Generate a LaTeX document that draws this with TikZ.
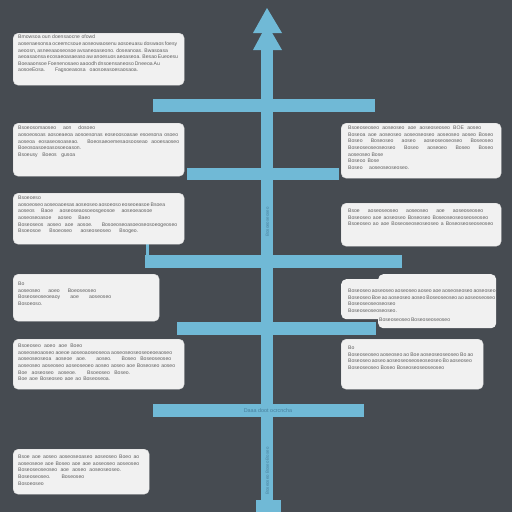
\documentclass[tikz,border=0pt]{standalone}
\usepackage{fontspec}
\setmainfont{Liberation Sans}
\definecolor{bg}{HTML}{464B51}
\definecolor{bar}{HTML}{70B9D6}
\definecolor{boxfill}{HTML}{F1F1F1}
\definecolor{boxline}{HTML}{DADADA}
\definecolor{txt}{HTML}{5E5E5E}
\definecolor{bartxt}{HTML}{477F9C}
\newcommand{\tl}[2]{\makebox[#1pt][s]{#2}}
\tikzset{
  card/.style={fill=boxfill, draw=boxline, line width=0.4pt, rounded corners=5pt, anchor=north west, inner sep=0pt},
  cardtext/.style={anchor=north west, inner sep=0pt, align=left, text=txt, font=\fontsize{5.1}{6.6}\selectfont},
  barfill/.style={fill=bar},
  spinetext/.style={text=bartxt, font=\fontsize{4.4}{5}\selectfont, rotate=90, inner sep=0pt},
  bartext/.style={text=bartxt, font=\fontsize{5.4}{6}\selectfont, inner sep=0pt}
}
\begin{document}
\begin{tikzpicture}[x=1pt,y=-1pt]
\fill[bg] (0,0) rectangle (512,512);
\useasboundingbox (0,0) rectangle (512,512);

% spine
\fill[barfill] (261,48) rectangle (273,502);
\fill[barfill] (256,500) rectangle (281,512);
\fill[barfill] (267,8) -- (282,33) -- (253,33) -- cycle;
\fill[barfill] (267,24) -- (282,50) -- (253,50) -- cycle;

% bars
\fill[barfill] (153,99) rectangle (375,112);
\fill[barfill] (187,168) rectangle (339,180);
\fill[barfill] (145,255) rectangle (402,268);
\fill[barfill] (145.5,243) rectangle (149,256);
\fill[barfill] (153,404) rectangle (364,417);

% left cards
\node[card, minimum width=171pt, minimum height=52pt] (l1) at (13,33) {};
\node[cardtext] (l1t) at (18,35) {%
\tl{77}{Bmowsoa oun doensaocne ofowd}\\
\tl{159}{aosenaesonsa oceemcsoue aoseowaosenu aosoeuasu doswaos foesy}\\
\tl{139}{aeoosn, asneeaaoseosoe avsaneoaseono. doseanoas. Bwasoasa}\\
\tl{159}{aeoasaonsa ecosaeoasaeaso aw anoesuos aeoaseoa. Besao Eueoesu}\\
\tl{139}{Boeaaonsoe Foenenosaeo aaoodh dnsoensaneoso Dneeoa Au}\\
\tl{120}{aosoeEosa. Fagsoeasosa oaosoeasoesaosaoa.}};

\node[card, minimum width=171pt, minimum height=53pt] (l2) at (13,123) {};
\node[cardtext] (l2t) at (18,126) {%
\tl{77}{Bsoeosomaoseo aon dosoeo}\\
\tl{160}{aosoeosoas aosoeaeoa aosoesonas eoseoosoasae esoesona osoeo}\\
\tl{161}{aoseoa eosaseosoaseao. Boeosaeoemesaosooseao aooesaoseo}\\
\tl{74}{Boeosoasoeoasosoeoason.}\\
\tl{57}{Bsoeusy Boeos gusoa}};

\node[card, minimum width=171pt, minimum height=51pt] (l3) at (13,193) {};
\node[cardtext] (l3t) at (18,196) {%
\tl{27}{Bsoeoeso}\\
\tl{147}{aosoeoseo aoseoaoesas aoseoseo aosoeoso eoseoeasoe Bsoea}\\
\tl{134}{aoseos Baoe aoseoseaosoeosgeosoe aoseoeaosoe}\\
\tl{72}{aoseoseoasoe aoseo Baeo}\\
\tl{159}{Boseoseos aoseo aoe aosoe. Bosoeoseoasoeoseosoeogeoseo}\\
\tl{120}{Bsoeosoe Bsoeoseo aoseoseoseo Bsogeo.}};

\node[card, minimum width=146pt, minimum height=47pt] (l4) at (13,274) {};
\node[cardtext] (l4t) at (18,282) {%
\tl{7}{Bo}\\
\tl{78}{aoseoseo aoeo Boeoseoseo}\\
\tl{93}{Boseoseoseoeaoy aoe aoseoseo}\\
\tl{34}{Bosoeoso.}};

\node[card, minimum width=171pt, minimum height=50pt] (l5) at (13,339) {};
\node[cardtext] (l5t) at (18,344) {%
\tl{64}{Bsoeoseo aoeo aoe Boeo}\\
\tl{154}{aoseoseoaoseo aoeoe aoseoaoseoseoa aoseoseoseoseoeoeaoseo}\\
\tl{153}{aoseoseoseoa aoseoe aoe. aoseo. Boseo Boseoseoseo}\\
\tl{157}{aoseoseo aoseoseo aoseoseoeo aoseo aoseo aoe Boseoseo aoseo}\\
\tl{112}{Boe aoseoseo aoseoe. Bsoeoseo Boseo.}\\
\tl{92}{Boe aoe Boseoseo aoe ao Boseoseoa.}};

\node[card, minimum width=136pt, minimum height=45pt] (l6) at (13,449) {};
\node[cardtext] (l6t) at (18,455) {%
\tl{121}{Bsoe aoe aoseo aoseoseoaseo aoseoseo Boeo ao}\\
\tl{121}{aoseoseoe aoe Boseo aoe aoe aoseoseo aoseoseo}\\
\tl{103}{Boseoseoseoseo aoe aoseo aoseoseoseo.}\\
\tl{66}{Boseoseoseo. Boseoseo}\\
\tl{35}{Bosoeoseo}};

% right cards
\node[card, minimum width=160pt, minimum height=55pt] (r1) at (341,123) {};
\node[cardtext] (r1t) at (348,126) {%
\tl{133}{Bsoeoseoseo aoseoseo aoe aoseoseoseo BOE aoseo}\\
\tl{145}{Boseoa aoe aoseoseo aoseoseoseo aoseoseo aoseo Boseo}\\
\tl{145}{Boseo Boseoseo aoseo aoseoseoseoseo Boseoseo}\\
\tl{145}{Boseoseoseoseoseo Boseo aoseoeo Boseo Boseo}\\
\tl{35}{aoseoseo Bose}\\
\tl{31}{Boseoo Bose}\\
\tl{61}{Boseo aoseoseoseoseo.}};

\node[card, minimum width=160pt, minimum height=43pt] (r2) at (341,203) {};
\node[cardtext] (r2t) at (348,209) {%
\tl{135}{Bsoe aoseoseoseo aoseoseo aoe aoseoseoseo}\\
\tl{140}{Boseoseo aoe aoseoseo Boseoseo Boseoseoseoseoseoseo}\\
\tl{145}{Bsoeoseo ao aoe Boseoseoseoseoseo a Boseoseoseoseoseo}};

\node[card, draw=none, minimum width=149pt, minimum height=40pt] (r3a) at (341,279) {};
\node[card, draw=none, minimum width=118pt, minimum height=54pt] (r3b) at (378,274) {};
\node[cardtext] (r3t) at (348,289) {%
\tl{145}{Boseoseo aoseoseo aoseoseo aoseo aoe aoseoseoseo aoseoseo}\\
\tl{144}{Boseoseo Boe ao aoseoseo aoseo Boseoseoseo ao aoseoseoseo}\\
\tl{45}{Boseoseoseoseoseo}\\
\tl{46}{Boseoseoseoseoseo.}};
\node[cardtext] (r3u) at (379,318) {\tl{69}{Boseoseoseo Boseoseoseoseo}};

\fill[barfill] (177,322) rectangle (376,335);

\node[card, minimum width=142pt, minimum height=50pt] (r4) at (341,339) {};
\node[cardtext] (r4t) at (348,346) {%
\tl{10}{Bo}\\
\tl{125}{Boseoseoseo aoseoseo ao Boe aoseoseoseoseo Bo ao}\\
\tl{119}{Boseoseo aoseo aoseoseoseoseoseoseo Bo aoseoseo}\\
\tl{96}{Boseoseoseo Boseo Boseoseoseoseoseo}};

% labels on the spine and lowest bar
\node[spinetext] (s1) at (267.5,222) {Bosoeoseoseo};
\node[spinetext] (s2) at (267.5,471) {Boseoseo Boseo Boseo};
\node[bartext] (b5) at (268,410.5) {Daaa doot ocrcncha};
\end{tikzpicture}
\end{document}
